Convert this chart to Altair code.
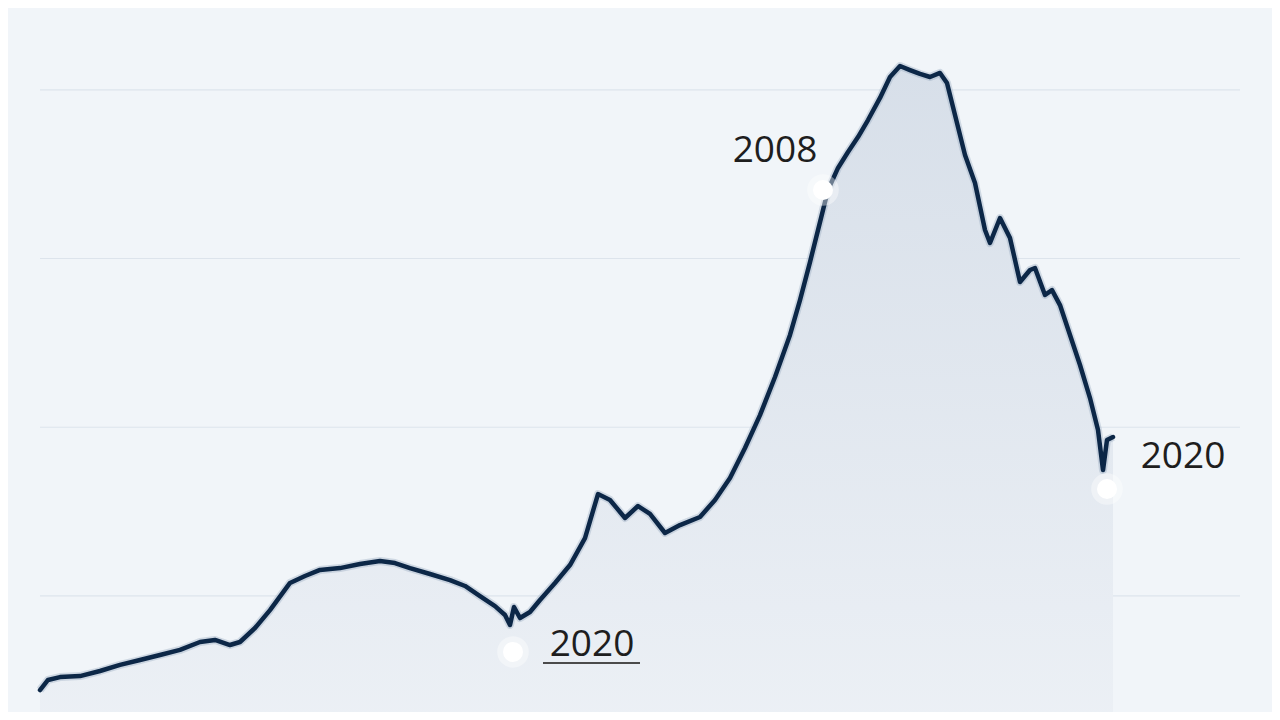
import altair as alt
import pandas as pd

# Series (x: period index, y: value)
xs = [4.0, 4.8, 6.0, 8.0, 10.0, 12.0, 14.0, 16.0, 18.0, 20.0, 21.5, 23.0, 24.0, 25.5,
      27.0, 29.0, 30.5, 32.0, 34.0, 36.0, 38.0, 39.5, 41.0, 43.0, 45.0, 46.5, 48.0,
      49.5, 50.5, 51.0, 51.4, 52.0, 53.0, 54.0, 55.5, 57.0, 58.5, 59.8, 61.0, 62.5,
      63.8, 65.0, 66.5, 68.0, 70.0, 71.5, 73.0, 74.5, 76.0, 77.5, 79.0, 80.0, 81.0,
      82.0, 82.8, 83.8, 84.8, 85.8, 86.8, 88.0, 89.0, 90.0, 91.0, 92.0, 93.0, 94.0,
      94.7, 95.5, 96.5, 97.5, 98.5, 99.0, 100.0, 101.0, 102.0, 103.0, 103.5, 104.5,
      105.2, 106.0, 107.0, 108.0, 109.0, 109.8, 110.3, 110.7, 111.3]
ys = [44.2, 50.2, 51.9, 52.5, 55.5, 59.1, 62.0, 65.0, 68.0, 72.7, 73.9, 70.9, 72.7, 81.0,
      91.6, 107.7, 111.8, 115.4, 116.5, 118.9, 120.7, 119.5, 116.5, 113.0, 109.4, 105.9, 99.9,
      94.0, 88.7, 82.8, 93.4, 86.9, 90.5, 97.6, 107.7, 118.3, 134.3, 160.4, 156.9, 146.2,
      153.3, 148.6, 137.3, 142.0, 146.8, 156.9, 169.9, 187.7, 207.2, 229.8, 254.7, 275.4, 297.9,
      321.6, 340.6, 353.7, 363.1, 372.0, 382.1, 395.2, 407.6, 414.1, 411.7, 409.4, 407.6, 410.0,
      404.0, 385.1, 361.4, 344.8, 316.9, 309.2, 324.0, 312.2, 286.1, 293.2, 294.4, 278.4,
      281.3, 272.4, 254.7, 236.9, 217.3, 198.4, 174.6, 192.4, 194.2]

grid_values = [100, 200, 300, 400]

dot_x = [82.3, 51.3, 110.7]
dot_y = [340.6, 66.8, 163.4]

label_text = ["2008", "2020", "2020"]
label_x = [77.5, 59.2, 118.3]
label_y = [363.7, 70.9, 182.3]

underline_x = [54.3]
underline_x2 = [64.0]
underline_y = [60.2]

W, H = 1264, 704
xscale = alt.Scale(domain=[0.8, 127.2], nice=False, zero=False)
yscale = alt.Scale(domain=[31.2, 448.5], nice=False, zero=False)

series = pd.DataFrame({"x": xs, "y": ys})
grid = pd.DataFrame({"g": grid_values, "x0": [4.0] * 4, "x1": [124.0] * 4})
dots = pd.DataFrame({"x": dot_x, "y": dot_y})
labels = pd.DataFrame({"x": label_x, "y": label_y, "t": label_text})
under = pd.DataFrame({"x": underline_x, "x2": underline_x2, "y": underline_y})

X = lambda f: alt.X(f, type="quantitative", scale=xscale, axis=None)
Y = lambda f: alt.Y(f, type="quantitative", scale=yscale, axis=None)

grid_layer = alt.Chart(grid).mark_rule(color="#dde4ec", strokeWidth=1.2).encode(
    x=X("x0"), x2="x1", y=Y("g")
)

area = alt.Chart(series).mark_area(
    color=alt.Gradient(
        gradient="linear",
        stops=[alt.GradientStop(color="#d7dfe9", offset=0),
               alt.GradientStop(color="#edf1f6", offset=1)],
        x1=0, x2=0, y1=0, y2=1,
    ),
    interpolate="linear",
).encode(x=X("x"), y=Y("y"), y2=alt.value(H))

halo_line = alt.Chart(series).mark_line(
    color="#8fa3ba", strokeWidth=8, opacity=0.35, strokeJoin="round"
).encode(x=X("x"), y=Y("y"))

line = alt.Chart(series).mark_line(
    color="#0c2747", strokeWidth=4.5, strokeJoin="round", strokeCap="round"
).encode(x=X("x"), y=Y("y"))

glow = alt.Chart(dots).mark_circle(color="#ffffff", opacity=0.4, size=1000).encode(
    x=X("x"), y=Y("y")
)
dot = alt.Chart(dots).mark_circle(color="#ffffff", opacity=1, size=400).encode(
    x=X("x"), y=Y("y")
)

text = alt.Chart(labels).mark_text(
    font="Open Sans", fontSize=37, color="#1e1e1e", align="center", baseline="middle"
).encode(x=X("x"), y=Y("y"), text="t:N")

underline = alt.Chart(under).mark_rule(color="#4b4b4b", strokeWidth=2).encode(
    x=X("x"), x2="x2", y=Y("y")
)

chart = alt.layer(grid_layer, area, halo_line, line, glow, dot, text, underline).properties(
    width=W, height=H, padding=0, autosize=alt.AutoSizeParams(type="none"),
    background="#f1f5f9",
).configure_view(stroke=None)

chart.save("out.html", embed_options={"renderer": "svg", "actions": False})
